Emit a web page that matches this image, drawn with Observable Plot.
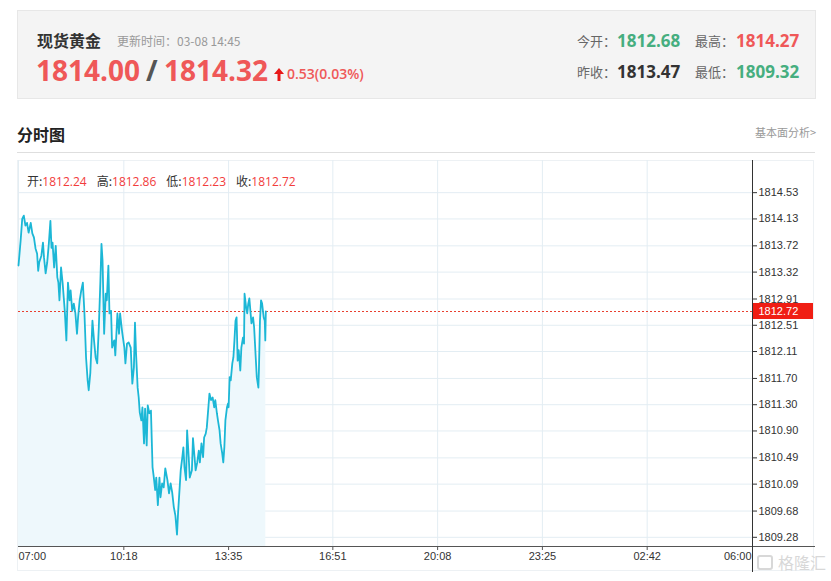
<!DOCTYPE html>
<html><head><meta charset="utf-8">
<script src="https://cdn.jsdelivr.net/npm/d3@7"></script>
<script src="https://cdn.jsdelivr.net/npm/@observablehq/plot@0.6"></script>
<style>
body{margin:0;background:#fff;width:831px;height:581px;overflow:hidden;position:relative;font-family:"Open Sans","Noto Sans CJK SC",sans-serif;}
.a{position:absolute;white-space:nowrap;line-height:1;}
#hdr{position:absolute;left:17px;top:10px;width:797px;height:87px;background:#f4f4f4;border:1px solid #e7e7e7;}
#box{position:absolute;left:17px;top:160px;width:797px;height:411px;border:1px solid #edf1f4;box-sizing:border-box;}
#chart{position:absolute;left:12px;top:160px;}
.red{color:#ef5858}.grn{color:#46ae7f}
.lab{font-size:13px;color:#666;font-family:"Noto Sans CJK SC",sans-serif;}
.num{font-size:17px;font-weight:700;}
#info{position:absolute;left:27px;top:174px;font-size:12px;color:#333;font-family:"Noto Sans CJK SC","Liberation Sans",sans-serif;line-height:14px;}
#info span.v{color:#f23c3c;font-family:"Open Sans",sans-serif;margin-right:10px;}
</style></head>
<body>
<div id="hdr"></div>
<div class="a" style="left:37px;top:32px;font-size:16px;font-weight:700;color:#333;font-family:'Noto Sans CJK SC',sans-serif;">现货黄金</div>
<div class="a" style="left:117px;top:35px;font-size:12px;color:#999;font-family:'Noto Sans CJK SC',sans-serif;">更新时间：03-08 14:45</div>
<div class="a red" style="left:36px;top:56px;font-size:28px;font-weight:700;">1814.00</div>
<div class="a" style="left:146px;top:56px;font-size:28px;font-weight:700;color:#555;">/</div>
<div class="a red" style="left:164px;top:56px;font-size:28px;font-weight:700;">1814.32</div>
<svg class="a" style="left:274px;top:68px;" width="10" height="13" viewBox="0 0 10 13"><polygon points="5,0 10,6 6.5,6 6.5,13 3.5,13 3.5,6 0,6" fill="#e81818"/></svg>
<div class="a red" style="left:287px;top:67px;font-size:14px;font-weight:600;">0.53(0.03%)</div>

<div class="a lab" style="left:577px;top:34px;">今开：</div>
<div class="a num grn" style="left:617px;top:32px;">1812.68</div>
<div class="a lab" style="left:695px;top:34px;">最高：</div>
<div class="a num red" style="left:736px;top:32px;">1814.27</div>
<div class="a lab" style="left:577px;top:65px;">昨收：</div>
<div class="a num" style="left:617px;top:63px;color:#333;">1813.47</div>
<div class="a lab" style="left:695px;top:65px;">最低：</div>
<div class="a num grn" style="left:736px;top:63px;">1809.32</div>

<div class="a" style="left:17px;top:126px;font-size:16px;font-weight:700;color:#222;font-family:'Noto Sans CJK SC',sans-serif;">分时图</div>
<div class="a" style="left:755px;top:127px;font-size:11px;color:#999;font-family:'Noto Sans CJK SC',sans-serif;">基本面分析&gt;</div>
<div class="a" style="left:17px;top:152px;width:798px;height:1px;background:#dedede;"></div>

<div id="box"></div>
<div id="chart"></div>
<div id="info"></div>
<div class="a" style="left:757px;top:555px;width:16px;height:15px;border:2px solid #d8d8d8;border-radius:3px;box-sizing:border-box;"></div>
<div class="a" style="left:778px;top:554px;font-size:16px;color:#d8d8d8;font-family:'Noto Sans CJK SC',sans-serif;">格隆汇</div>

<script>
const times = ["07:00","07:04","07:07","07:10","07:13","07:16","07:19","07:23","07:26","07:29",
"07:32","07:35","07:37","07:39","07:43","07:46","07:48","07:51","07:54","07:57",
"08:00","08:02","08:04","08:07","08:10","08:13","08:15","08:17","08:20","08:23",
"08:27","08:30","08:33","08:36","08:38","08:41","08:44","08:47","08:50","08:52",
"08:55","08:58","09:01","09:04","09:07","09:10","09:12","09:15","09:19","09:22",
"09:25","09:28","09:31","09:34","09:36","09:38","09:41","09:44","09:46","09:49",
"09:51","09:54","09:56","10:00","10:02","10:06","10:09","10:11","10:15","10:19",
"10:21","10:24","10:27","10:31","10:34","10:37","10:39","10:41","10:44","10:46",
"10:48","10:51","10:53","10:56","10:58","11:01","11:03","11:06","11:09","11:12",
"11:14","11:17","11:19","11:22","11:25","11:27","11:30","11:33","11:36","11:40",
"11:43","11:46","11:49","11:52","11:55","11:58","12:00","12:03","12:05","12:08",
"12:10","12:12","12:15","12:17","12:20","12:22","12:26","12:28","12:31","12:33",
"12:36","12:39","12:41","12:44","12:47","12:49","12:52","12:54","12:57","12:59",
"13:02","13:05","13:08","13:10","13:13","13:15","13:18","13:20","13:23","13:25",
"13:27","13:29","13:32","13:34","13:35","13:37","13:39","13:42","13:44","13:46",
"13:48","13:50","13:52","13:54","13:57","13:59","14:02","14:04","14:05","14:08",
"14:10","14:12","14:14","14:16","14:18","14:21","14:23","14:26","14:28","14:31",
"14:32","14:34","14:36","14:38","14:41","14:43","14:44","14:45"];

const prices = [1813.42,1813.80,1814.13,1814.18,1814.03,1814.07,1813.92,1814.07,1813.91,1813.85,
1813.68,1813.60,1813.34,1813.47,1813.57,1813.77,1813.54,1813.30,1813.47,1813.75,
1814.10,1813.69,1813.77,1813.39,1813.72,1813.24,1813.16,1812.89,1813.39,1813.15,
1812.73,1812.28,1813.16,1812.89,1813.04,1812.73,1812.84,1812.69,1812.38,1812.63,
1812.89,1813.04,1813.16,1812.69,1812.02,1811.67,1811.52,1811.78,1812.58,1812.28,
1812.02,1811.93,1812.48,1813.19,1813.75,1813.50,1812.38,1812.99,1812.89,1813.42,
1812.69,1812.73,1812.17,1812.28,1812.05,1812.69,1812.38,1812.69,1812.40,1812.17,
1811.93,1812.23,1812.25,1812.17,1811.62,1811.87,1812.55,1812.08,1811.56,1811.41,
1811.18,1811.06,1811.26,1810.71,1811.24,1810.68,1811.29,1811.17,1811.21,1810.35,
1810.22,1810.00,1810.19,1809.77,1810.19,1809.89,1810.10,1810.04,1810.33,1810.15,
1809.95,1810.10,1809.96,1809.74,1809.61,1809.32,1809.65,1810.04,1810.30,1810.50,
1810.65,1810.35,1810.15,1810.91,1810.50,1810.19,1810.30,1810.79,1810.50,1810.30,
1810.42,1810.60,1810.42,1810.71,1810.50,1810.80,1810.86,1810.95,1811.26,1811.47,
1811.37,1811.41,1811.26,1811.37,1811.17,1811.06,1810.91,1810.71,1810.56,1810.42,
1810.65,1811.06,1811.26,1811.32,1811.26,1811.72,1811.67,1811.93,1812.02,1812.28,
1812.58,1812.63,1811.97,1812.13,1811.82,1812.17,1812.32,1812.23,1812.99,1812.78,
1812.69,1812.84,1812.92,1812.73,1812.54,1812.63,1812.48,1812.02,1811.72,1811.56,
1811.82,1812.58,1812.89,1812.84,1812.63,1812.58,1812.28,1812.72];

const yTicks = [1814.53,1814.13,1813.72,1813.32,1812.91,1812.51,1812.11,1811.70,1811.30,1810.90,1810.49,1810.09,1809.68,1809.28];
const yRange = [1809.14, 1815.02];
const xTickLabels = ["07:00","10:18","13:35","16:51","20:08","23:25","02:42","06:00"];
const lastClose = 1812.72;
const infoLabels = ["开","高","低","收"];
const infoValues = ["1812.24","1812.86","1812.23","1812.72"];

const base = Date.UTC(2021, 2, 8);
function toDate(hm) {
  const [h, m] = hm.split(":").map(Number);
  const day = h < 7 ? 1 : 0;
  return new Date(base + ((day * 24 + h) * 60 + m) * 60000);
}
const data = times.map((t, i) => ({date: toDate(t), price: prices[i]}));
const xTicks = xTickLabels.map(toDate);
const xDomain = [xTicks[0], xTicks[xTicks.length - 1]];
const fmt = (d) => xTickLabels[xTicks.findIndex(t => +t === +d)];

const grid = "#e3edf3";
const chart = Plot.plot({
  width: 803, height: 412,
  marginLeft: 6, marginRight: 63, marginTop: 0, marginBottom: 26,
  style: {fontFamily: "'Liberation Sans', Arial, sans-serif", fontSize: "11px", color: "#333", background: "transparent", overflow: "visible"},
  x: {type: "utc", domain: xDomain},
  y: {domain: yRange},
  marks: [
    Plot.gridX(xTicks, {stroke: grid, strokeOpacity: 1}),
    Plot.gridY(yTicks, {stroke: grid, strokeOpacity: 1}),
    Plot.areaY(data, {x: "date", y1: () => yRange[0], y2: "price", fill: "#eef8fc"}),
    Plot.ruleY([lastClose], {stroke: "#e8402f", strokeDasharray: "2,2", strokeWidth: 1.2}),
    Plot.lineY(data, {x: "date", y: "price", stroke: "#1cb7d6", strokeWidth: 1.8}),
    Plot.ruleY([yRange[0]], {stroke: "#555", insetRight: -63}),
    Plot.ruleX([xDomain[1]], {stroke: "#333", insetBottom: -26}),
    Plot.axisY(yTicks, {anchor: "right", tickSize: 4, tickPadding: 2, tickFormat: d => d.toFixed(2), label: null, stroke: "#333", fill: "#333"}),
    Plot.axisX([xTicks[0]], {tickSize: 0, tickPadding: 6, textAnchor: "start", tickFormat: fmt, label: null, fill: "#333"}),
    Plot.axisX(xTicks.slice(1, -1), {tickSize: 4, tickPadding: 2, tickFormat: fmt, label: null, fill: "#333", stroke: "#555"}),
    Plot.axisX([xTicks[xTicks.length - 1]], {tickSize: 0, tickPadding: 6, textAnchor: "end", dx: -1, tickFormat: fmt, label: null, fill: "#333"}),
    Plot.rect([lastClose], {x1: () => xDomain[1], x2: () => xDomain[1], y1: d => d, y2: d => d, insetLeft: 1, insetRight: -61, insetTop: -8, insetBottom: -8, fill: "#f01e14"}),
    Plot.text([lastClose], {y: d => d, frameAnchor: "right", dx: 6, textAnchor: "start", text: d => d.toFixed(2), fill: "white", fontSize: 11})
  ]
});
document.getElementById("chart").appendChild(chart);

document.getElementById("info").innerHTML = infoLabels.map((l, i) =>
  `<span>${l}:</span><span class="v">${infoValues[i]}</span>`).join("");
</script>
</body></html>
